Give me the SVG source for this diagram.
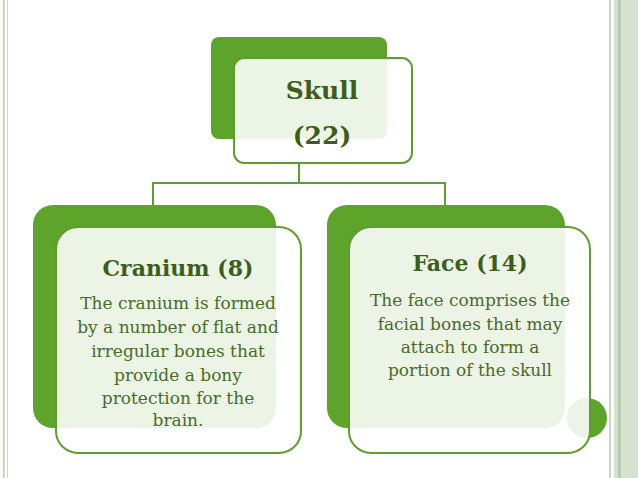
<svg xmlns="http://www.w3.org/2000/svg" width="638" height="478" viewBox="0 0 638 478">
<style>
.back{fill:#5ea42a}
.front{fill:#ffffff;fill-opacity:0.88;stroke:#5e9e2e;stroke-width:2}
.t{font-family:"DejaVu Serif","Liberation Serif",serif;fill:#3b5e1d;text-anchor:middle}
.h{font-weight:bold}
.b{font-size:17px;fill:#4a6b2a}
.c{fill:none;stroke:#5e9e2e;stroke-width:2}
</style>
<rect width="638" height="478" fill="#fff"/>
<rect x="3" y="0" width="2" height="478" fill="#c9d8c4"/>
<rect x="7" y="0" width="1" height="478" fill="#c9d8c4"/>
<rect x="609" y="0" width="2" height="478" fill="#c9d8c4"/>
<rect x="614" y="0" width="24" height="478" fill="#d5e2d0"/>
<rect x="618" y="0" width="3" height="478" fill="#b7cbb0"/>
<g id="connectors">
<path class="c" d="M299 163V183M153 205V183H445V205"/>
</g>
<g id="skull">
<rect class="back" x="211" y="37" width="176" height="102" rx="8"/>
<rect class="front" x="234" y="58" width="178" height="105" rx="10"/>
<text class="t h" x="322" y="99" font-size="25">Skull</text>
<text class="t h" x="322" y="144" font-size="25">(22)</text>
</g>
<g id="cranium">
<rect class="back" x="33" y="205" width="243" height="223" rx="20"/>
<rect class="front" x="56" y="227" width="245" height="226" rx="22"/>
<text class="t h" x="178" y="276" font-size="22">Cranium (8)</text>
<text class="t b" x="178" y="309">The cranium is formed</text>
<text class="t b" x="178" y="333">by a number of flat and</text>
<text class="t b" x="178" y="357">irregular bones that</text>
<text class="t b" x="178" y="381">provide a bony</text>
<text class="t b" x="178" y="404">protection for the</text>
<text class="t b" x="178" y="426">brain.</text>
</g>
<g id="face">
<rect class="back" x="327" y="205" width="238" height="223" rx="20"/>
<circle cx="587" cy="418" r="20" fill="#5ea42a"/>
<rect class="front" x="349" y="227" width="241" height="226" rx="22"/>
<text class="t h" x="470" y="271" font-size="22">Face (14)</text>
<text class="t b" x="470" y="306">The face comprises the</text>
<text class="t b" x="470" y="330">facial bones that may</text>
<text class="t b" x="470" y="353">attach to form a</text>
<text class="t b" x="470" y="376">portion of the skull</text>
</g>
</svg>
